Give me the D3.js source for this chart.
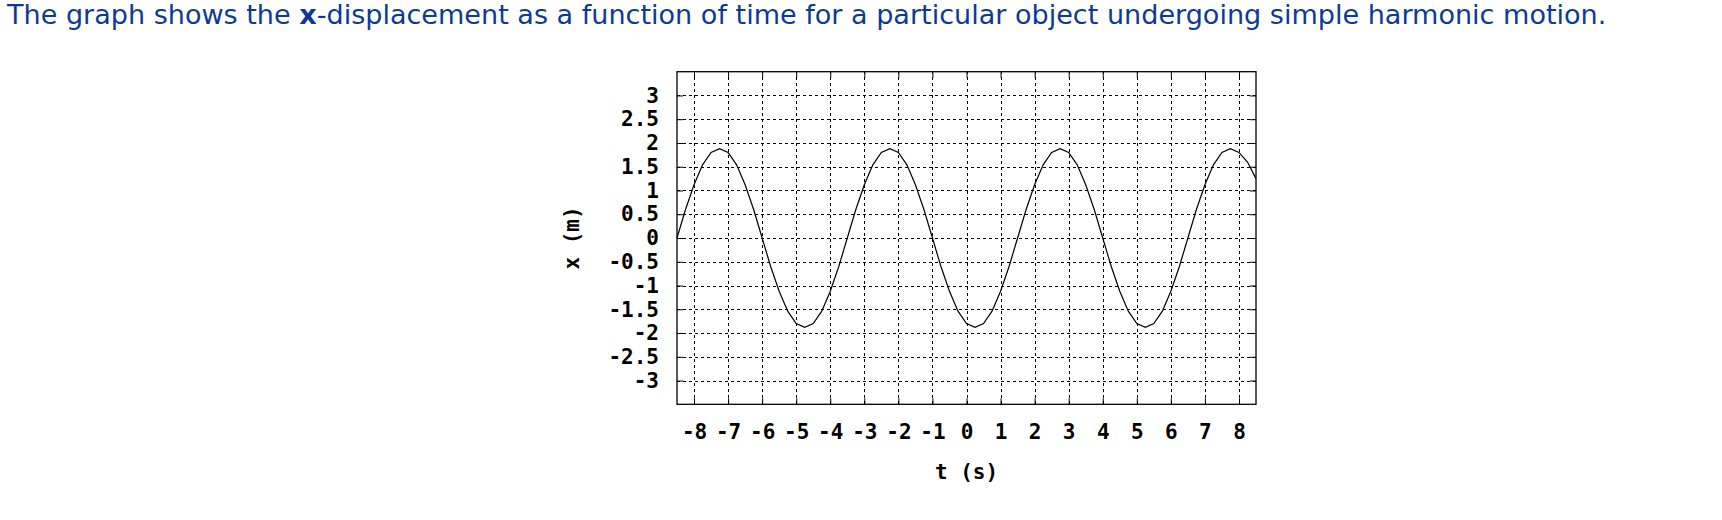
<!DOCTYPE html>
<html lang="en">
<head>
<meta charset="utf-8">
<title>SHM displacement</title>
<script src="https://cdnjs.cloudflare.com/ajax/libs/d3/7.8.5/d3.min.js"></script>
<style>
body{margin:0;background:#fff;}
</style>
</head>
<body>
<script>
// data
var tValues=[-8.5,-8.25,-8,-7.75,-7.5,-7.25,-7,-6.75,-6.5,-6.25,-6,-5.75,-5.5,-5.25,-5,-4.75,-4.5,-4.25,-4,-3.75,
  -3.5,-3.25,-3,-2.75,-2.5,-2.25,-2,-1.75,-1.5,-1.25,-1,-0.75,-0.5,-0.25,0,0.25,0.5,0.75,1,1.25,
  1.5,1.75,2,2.25,2.5,2.75,3,3.25,3.5,3.75,4,4.25,4.5,4.75,5,5.25,5.5,5.75,6,6.25,
  6.5,6.75,7,7.25,7.5,7.75,8,8.25,8.5];
var xValues=[0,0.6,1.12,1.54,1.8,1.88,1.8,1.54,1.12,0.6,0,-0.6,-1.12,-1.54,-1.8,-1.88,-1.8,-1.54,-1.12,-0.6,
  0,0.6,1.12,1.54,1.8,1.88,1.8,1.54,1.12,0.6,0,-0.6,-1.12,-1.54,-1.8,-1.88,-1.8,-1.54,-1.12,-0.6,
  0,0.6,1.12,1.54,1.8,1.88,1.8,1.54,1.12,0.6,0,-0.6,-1.12,-1.54,-1.8,-1.88,-1.8,-1.54,-1.12,-0.6,
  0,0.6,1.12,1.54,1.8,1.88,1.8,1.6,1.25];
var xTicks=[-8,-7,-6,-5,-4,-3,-2,-1,0,1,2,3,4,5,6,7,8];
var yTicks=[-3,-2.5,-2,-1.5,-1,-0.5,0,0.5,1,1.5,2,2.5,3];

var W=1722,H=520;
var pLeft=677,pRight=1256,pTop=71.7,pBottom=404.3;
var monoFont="'DejaVu Sans Mono', monospace";
var labelSize=21;

var svg=d3.select("body").append("svg")
  .attr("width",W).attr("height",H);

// title sentence
var title=svg.append("text")
  .attr("x",7).attr("y",23.5)
  .attr("font-family","'DejaVu Sans', Verdana, sans-serif")
  .attr("font-size",26)
  .attr("fill","#0d3a97");
title.append("tspan").text("The graph shows the ");
title.append("tspan").attr("font-weight","bold").text("x");
title.append("tspan").text("-displacement as a function of time for a particular object undergoing simple harmonic motion.");
// fit to width of the original line
var tw=title.node().getComputedTextLength();
title.attr("font-size",26*1600/tw);

var x=d3.scaleLinear().domain([-8.5,8.5]).range([pLeft,pRight]);
var y=d3.scaleLinear().domain([-3.5,3.5]).range([pBottom,pTop]);

function dotted(g){
  g.select(".domain").remove();
  g.selectAll("line").attr("stroke","#000").attr("stroke-dasharray","3,3").attr("shape-rendering","crispEdges");
}
function noDomain(g){g.select(".domain").remove();}

// dotted grid
svg.append("g")
  .attr("transform","translate(0,"+pBottom+")")
  .call(d3.axisBottom(x).tickValues(xTicks).tickSize(-(pBottom-pTop)).tickFormat(""))
  .call(dotted);
svg.append("g")
  .attr("transform","translate("+pLeft+",0)")
  .call(d3.axisLeft(y).tickValues(yTicks).tickSize(-(pRight-pLeft)).tickFormat(""))
  .call(dotted);

// small solid ticks on the frame (inward)
var tk=6;
svg.append("g").attr("transform","translate(0,"+pBottom+")")
  .call(d3.axisBottom(x).tickValues(xTicks).tickSize(-tk).tickFormat("")).call(noDomain);
svg.append("g").attr("transform","translate(0,"+pTop+")")
  .call(d3.axisTop(x).tickValues(xTicks).tickSize(-tk).tickFormat("")).call(noDomain);
svg.append("g").attr("transform","translate("+pLeft+",0)")
  .call(d3.axisLeft(y).tickValues(yTicks).tickSize(-tk).tickFormat("")).call(noDomain);
svg.append("g").attr("transform","translate("+pRight+",0)")
  .call(d3.axisRight(y).tickValues(yTicks).tickSize(-tk).tickFormat("")).call(noDomain);

// tick labels (plain hyphen minus, like the original)
function labelStyle(g){
  g.select(".domain").remove();
  g.selectAll("text").attr("font-family",monoFont).attr("font-weight","bold").attr("font-size",labelSize).attr("fill","#000");
}
svg.append("g").attr("transform","translate(0,"+pBottom+")")
  .call(d3.axisBottom(x).tickValues(xTicks).tickSize(0).tickPadding(20).tickFormat(function(d){return String(d);}))
  .call(labelStyle);
svg.append("g").attr("transform","translate("+pLeft+",0)")
  .call(d3.axisLeft(y).tickValues(yTicks).tickSize(0).tickPadding(18).tickFormat(function(d){return String(d);}))
  .call(labelStyle);

// frame
svg.append("rect")
  .attr("x",pLeft).attr("y",pTop)
  .attr("width",pRight-pLeft).attr("height",pBottom-pTop)
  .attr("fill","none").attr("stroke","#000").attr("stroke-width",1.3);

// the curve
var pts=tValues.map(function(t,i){return [t,xValues[i]];});
svg.append("path")
  .datum(pts)
  .attr("d",d3.line().x(function(d){return x(d[0]);}).y(function(d){return y(d[1]);}))
  .attr("fill","none").attr("stroke","#000").attr("stroke-width",1.2);

// axis titles
svg.append("text")
  .attr("x",(pLeft+pRight)/2).attr("y",479)
  .attr("text-anchor","middle")
  .attr("font-family",monoFont).attr("font-weight","bold").attr("font-size",labelSize)
  .text("t (s)");
svg.append("text")
  .attr("transform","translate(579,"+((pTop+pBottom)/2)+") rotate(-90)")
  .attr("text-anchor","middle")
  .attr("font-family",monoFont).attr("font-weight","bold").attr("font-size",labelSize)
  .text("x (m)");
</script>
</body>
</html>
